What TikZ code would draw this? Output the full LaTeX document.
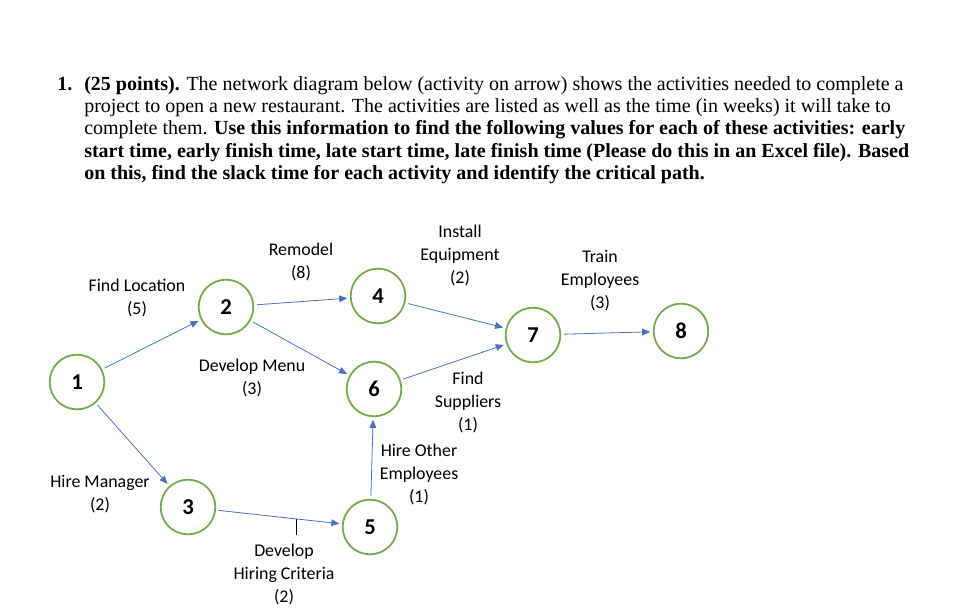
\documentclass[tikz,border=0pt]{standalone}
\usepackage{fontspec}
\setmainfont{Liberation Serif}
\newfontfamily\calfont{Carlito}
\usetikzlibrary{arrows.meta}
\definecolor{cgreen}{RGB}{112,173,71}
\definecolor{cblue}{RGB}{68,114,196}
\begin{document}
\begin{tikzpicture}[x=0.75pt,y=-0.75pt,
 ev/.style={circle,draw=cgreen,line width=1.3pt,minimum size=41pt,inner sep=0pt,font=\calfont\fontsize{17}{20}\selectfont\bfseries,fill=white},
 act/.style={draw=cblue,line width=0.6pt,-{Triangle[length=6pt,width=5pt]},shorten >=2pt,shorten <=2pt},
 lab/.style={font=\calfont\fontsize{13.4}{17.25}\selectfont,align=center,inner sep=0pt},
 para/.style={anchor=base west,inner sep=0pt,font=\fontsize{15}{17}\selectfont}]
\useasboundingbox (0,0) rectangle (962,611);
\node[para] (p0) at (57,90) {\textbf{1.}};
\node[para] (p1) at (84,90) {\textbf{(25 points).} The network diagram below (activity on arrow) shows the activities needed to complete a};
\node[para] (p2) at (84,112) {project to open a new restaurant. The activities are listed as well as the time (in weeks) it will take to};
\node[para] (p3) at (84,134) {complete them. \textbf{Use this information to find the following values for each of these activities: early}};
\node[para] (p4) at (84,157) {\textbf{start time, early finish time, late start time, late finish time (Please do this in an Excel file). Based}};
\node[para] (p5) at (84,179) {\textbf{on this, find the slack time for each activity and identify the critical path.}};
\node[ev] (n1) at (77,382) {1};
\node[ev] (n2) at (226,307) {2};
\node[ev] (n4) at (378,296) {4};
\node[ev] (n7) at (533,335) {7};
\node[ev] (n8) at (681,331) {8};
\node[ev] (n6) at (374,389) {6};
\node[ev] (n3) at (188,507) {3};
\node[ev] (n5) at (370,527) {5};
\draw[act] (n1) -- (n2);
\draw[act] (n2) -- (n4);
\draw[act] (n4) -- (n7);
\draw[act] (n2) -- (n6);
\draw[act] (n6) -- (n7);
\draw[act] (n7) -- (n8);
\draw[act] (n1) -- (n3);
\draw[act] (n3) -- (n5);
\draw[act] (n5) -- (n6);
\coordinate (t1) at (296,519); \coordinate (t2) at (296,535);
\draw[line width=0.5pt] (t1) -- (t2);
\node[lab] (l12) at (137,298) {Find Location\\(5)};
\node[lab] (l24) at (301,262) {Remodel\\(8)};
\node[lab] (l47) at (460,256) {Install\\Equipment\\(2)};
\node[lab] (l78) at (600,281) {Train\\Employees\\(3)};
\node[lab] (l26) at (252,378) {Develop Menu\\(3)};
\node[lab] (l67) at (468,403) {Find\\Suppliers\\(1)};
\node[lab] (l56) at (419,475) {Hire Other\\Employees\\(1)};
\node[lab] (l13) at (100,494) {Hire Manager\\(2)};
\node[lab] (l35) at (284,575) {Develop\\Hiring Criteria\\(2)};
\end{tikzpicture}
\end{document}
